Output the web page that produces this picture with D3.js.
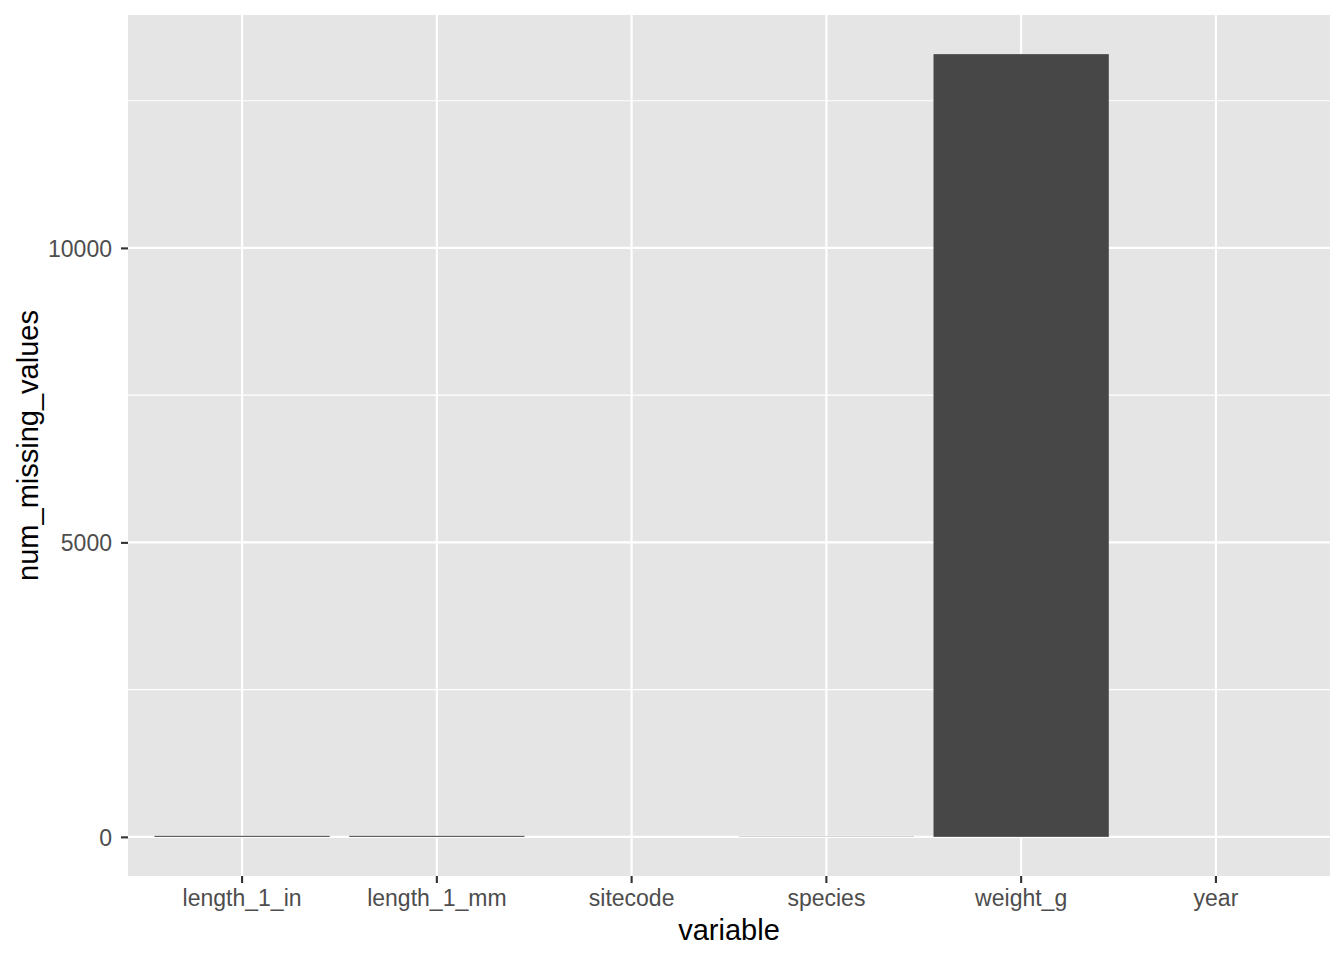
<!DOCTYPE html>
<html><head><meta charset="utf-8">
<script src="https://cdn.jsdelivr.net/npm/d3@7"></script>
<style>body{margin:0;background:#fff;} text{font-family:"Liberation Sans",Arial,sans-serif;}</style>
</head><body><svg id="c" width="1344" height="960"></svg>
<script>
const categories = ["length_1_in","length_1_mm","sitecode","species","weight_g","year"];
const values = [17, 17, 0, 4, 13290, 0];
const yTicks = [0, 5000, 10000];
const yMinor = [2500, 7500, 12500];

const svg = d3.select("#c");
const L = 128, R = 1330, T = 15, B = 876;
const maxV = d3.max(values);
const pad = maxV * 0.05;
const y = d3.scaleLinear().domain([-pad, maxV + pad]).range([B, T]);
const unit = (R - L) / (categories.length + 1.2);
const x = d3.scaleBand().domain(categories).range([L + 0.1*unit, R - 0.1*unit]).paddingInner(0.1).paddingOuter(0.05);
const cx = c => x(c) + x.bandwidth()/2;

svg.append("rect").attr("x", L).attr("y", T).attr("width", R-L).attr("height", B-T).attr("fill", "#E5E5E5");
const g = svg.append("g");
g.selectAll(".minor").data(yMinor).join("line")
  .attr("x1", L).attr("x2", R).attr("y1", d=>y(d)).attr("y2", d=>y(d))
  .attr("stroke", "#fff").attr("stroke-width", 1.07);
g.selectAll(".majory").data(yTicks).join("line")
  .attr("x1", L).attr("x2", R).attr("y1", d=>y(d)).attr("y2", d=>y(d))
  .attr("stroke", "#fff").attr("stroke-width", 2.13);
g.selectAll(".majorx").data(categories).join("line")
  .attr("y1", T).attr("y2", B).attr("x1", d=>cx(d)).attr("x2", d=>cx(d))
  .attr("stroke", "#fff").attr("stroke-width", 2.13);

svg.selectAll(".bar").data(categories.map((c,i)=>({c, v: values[i]}))).join("rect")
  .attr("x", d=>x(d.c)).attr("width", x.bandwidth())
  .attr("y", d=>y(d.v)).attr("height", d=>y(0)-y(d.v))
  .attr("fill", "#474747");

// y axis
const ya = svg.append("g").attr("transform", `translate(${L},0)`)
  .call(d3.axisLeft(y).tickValues(yTicks).tickSize(7).tickPadding(5).tickFormat(d3.format("d")));
ya.select(".domain").remove();
ya.selectAll(".tick line").attr("stroke", "#333").attr("stroke-width", 2.13);
ya.selectAll(".tick text").attr("fill", "#4D4D4D").style("font-size", "23px")
  .attr("x", -16).attr("dy", "0.36em");

const xa = svg.append("g").attr("transform", `translate(0,${B})`)
  .call(d3.axisBottom(x).tickSize(7).tickPadding(4));
xa.select(".domain").remove();
xa.selectAll(".tick line").attr("stroke", "#333").attr("stroke-width", 2.13);
xa.selectAll(".tick text").attr("fill", "#4D4D4D").style("font-size", "23px")
  .attr("y", 30).attr("dy", "0");

svg.append("text").attr("x", (L+R)/2).attr("y", 940).attr("text-anchor", "middle")
  .style("font-size", "29px").attr("fill", "#000").text("variable");
svg.append("text").attr("transform", `translate(38,${(T+B)/2}) rotate(-90)`).attr("text-anchor", "middle")
  .style("font-size", "29px").attr("fill", "#000").text("num_missing_values");
</script></body></html>
